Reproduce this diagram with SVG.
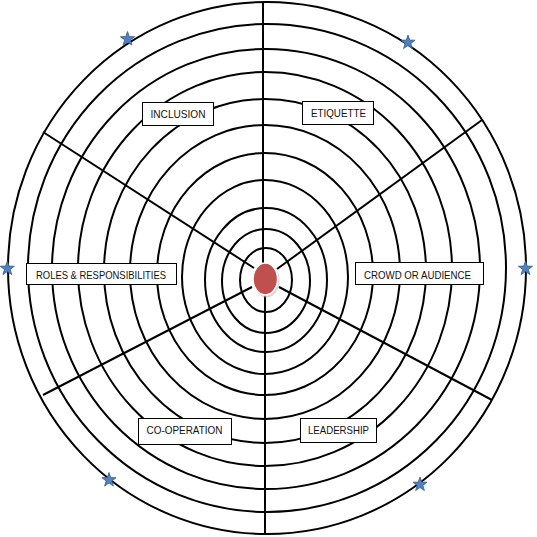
<svg xmlns="http://www.w3.org/2000/svg" width="537" height="537" viewBox="0 0 537 537">
<style>
.ring{fill:none;stroke:#000;stroke-width:2}
.spoke{stroke:#000;stroke-width:2;fill:none}
.box{fill:#fff;stroke:#000;stroke-width:1}
.lbl{font-family:"Liberation Sans",Arial,sans-serif;font-size:11px;fill:#111;text-anchor:middle;dominant-baseline:central}
.star{fill:#4f81bd;stroke:#385d8a;stroke-width:0.8}
</style>
<defs>
<path id="star" d="M0,-7.5 L1.75,-2.4 L7.1,-2.3 L2.85,0.93 L4.4,6.05 L0,3 L-4.4,6.05 L-2.85,0.93 L-7.1,-2.3 L-1.75,-2.4 Z"/>
</defs>
<rect width="537" height="537" fill="#fff"/>
<g id="rings">
<ellipse class="ring" cx="267" cy="268" rx="259" ry="266"/>
<ellipse class="ring" cx="267" cy="268" rx="239" ry="244"/>
<ellipse class="ring" cx="266" cy="269" rx="214" ry="220"/>
<ellipse class="ring" cx="265" cy="269" rx="187" ry="197"/>
<ellipse class="ring" cx="265" cy="271" rx="161" ry="172"/>
<ellipse class="ring" cx="265" cy="272" rx="135" ry="147"/>
<ellipse class="ring" cx="265" cy="274" rx="108" ry="121"/>
<ellipse class="ring" cx="265" cy="277" rx="83" ry="97"/>
<ellipse class="ring" cx="266" cy="280" rx="61" ry="72"/>
<ellipse class="ring" cx="266" cy="281" rx="44" ry="52"/>
<ellipse class="ring" cx="266" cy="280" rx="26" ry="32"/>
</g>
<g id="connectors">
<line class="spoke" x1="263" y1="2" x2="263" y2="265"/>
<line class="spoke" x1="265" y1="293" x2="265" y2="535"/>
<line class="spoke" x1="43" y1="132" x2="254" y2="268"/>
<line class="spoke" x1="482" y1="120" x2="277" y2="269"/>
<line class="spoke" x1="43" y1="395" x2="252" y2="287"/>
<line class="spoke" x1="492" y1="400" x2="279" y2="287"/>
</g>
<g id="inclusion">
<rect class="box" x="142.5" y="102.5" width="71" height="23"/>
<text class="lbl" x="178" y="114" textLength="55" lengthAdjust="spacingAndGlyphs">INCLUSION</text>
</g>
<g id="etiquette">
<rect class="box" x="302.5" y="101.5" width="71" height="23"/>
<text class="lbl" x="338.5" y="113" textLength="55" lengthAdjust="spacingAndGlyphs">ETIQUETTE</text>
</g>
<g id="roles">
<rect class="box" x="26.5" y="263.5" width="150" height="21"/>
<text class="lbl" x="101" y="275" textLength="130" lengthAdjust="spacingAndGlyphs">ROLES &amp; RESPONSIBILITIES</text>
</g>
<g id="crowd">
<rect class="box" x="355.5" y="262.5" width="128" height="22"/>
<text class="lbl" x="417.5" y="274.5" textLength="107" lengthAdjust="spacingAndGlyphs">CROWD OR AUDIENCE</text>
</g>
<g id="cooperation">
<rect class="box" x="138.5" y="418.5" width="93" height="26"/>
<text class="lbl" x="184.5" y="430" textLength="76" lengthAdjust="spacingAndGlyphs">CO-OPERATION</text>
</g>
<g id="leadership">
<rect class="box" x="300.5" y="418.5" width="76" height="24"/>
<text class="lbl" x="338.5" y="430" textLength="61" lengthAdjust="spacingAndGlyphs">LEADERSHIP</text>
</g>
<g id="center">
<ellipse cx="266.5" cy="280.5" rx="13" ry="17" fill="#bbb" opacity="0.6"/>
<ellipse cx="265.3" cy="279" rx="12.3" ry="16" fill="#c0504d" stroke="#fff" stroke-width="1.5"/>
</g>
<g id="stars">
<use href="#star" class="star" x="127.5" y="39"/>
<use href="#star" class="star" x="408" y="42.5"/>
<use href="#star" class="star" x="7.3" y="268.5"/>
<use href="#star" class="star" x="525.5" y="268.5"/>
<use href="#star" class="star" x="109" y="480"/>
<use href="#star" class="star" x="420" y="484.5"/>
</g>
</svg>
